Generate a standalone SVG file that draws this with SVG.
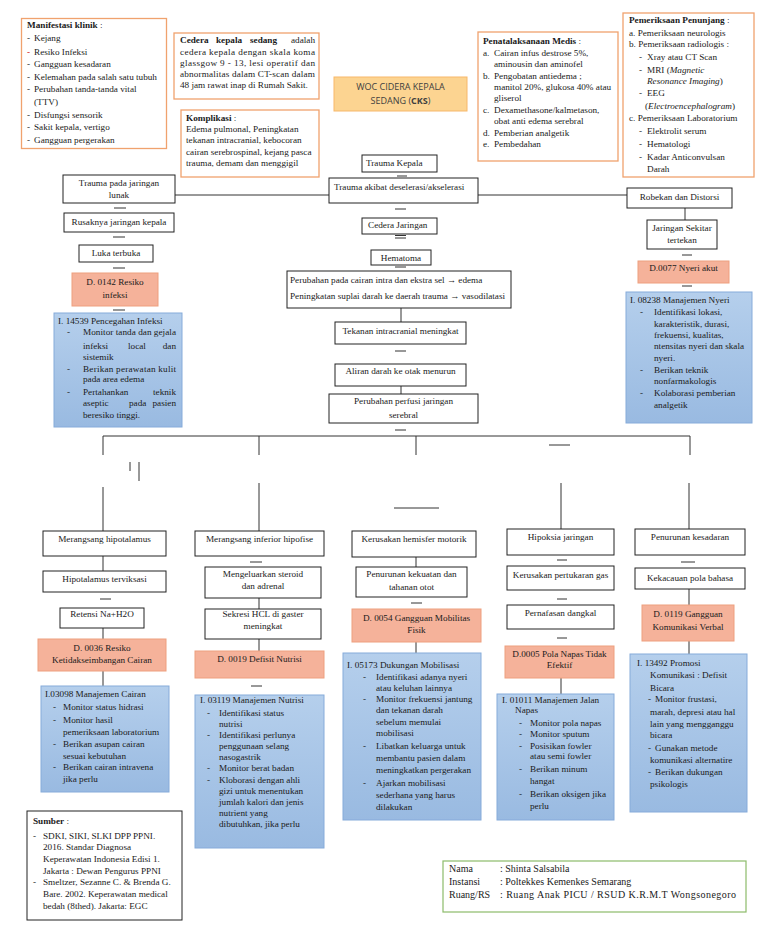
<svg xmlns="http://www.w3.org/2000/svg" width="768" height="932" viewBox="0 0 768 932">
<defs>
<linearGradient id="gb" x1="0" y1="0" x2="0" y2="1"><stop offset="0" stop-color="#B5CFEC"/><stop offset="1" stop-color="#99BAE1"/></linearGradient>
<style>
.t{font-family:"Liberation Serif","Times New Roman",serif;font-size:9.2px;fill:#1a1a1a}
.b{font-weight:bold}
.i{font-style:italic}
.m{text-anchor:middle}
.e{text-anchor:end}
.n{fill:#fff;stroke:#222;stroke-width:1}
.o{fill:#fff;stroke:#F0A26E;stroke-width:1.3}
.d{fill:#F5B29A;stroke:#EE9F7E;stroke-width:1}
.bl{fill:url(#gb);stroke:#86ABDA;stroke-width:1}
.c line{stroke:#333;stroke-width:1}
.h{font-family:"Open Sans","Liberation Sans",sans-serif;font-size:9px;fill:#404040;text-anchor:middle}
.id{font-family:"Liberation Serif","Times New Roman",serif;font-size:10px;fill:#1a1a1a}
</style>
</defs>
<rect width="768" height="932" fill="#fff"/>

<g id="connectors" class="c">
<line x1="175" y1="195" x2="329" y2="195"/>
<line x1="478" y1="195" x2="627" y2="195"/>
<line x1="397" y1="176" x2="407" y2="176"/>
<line x1="395" y1="209" x2="406" y2="209"/>
<line x1="395" y1="235.5" x2="406" y2="235.5"/>
<line x1="395" y1="238" x2="406" y2="238"/>
<line x1="395" y1="267" x2="406" y2="267"/>
<line x1="401" y1="308" x2="401" y2="322"/>
<line x1="395" y1="351" x2="406" y2="351"/>
<line x1="401" y1="386" x2="401" y2="394"/>
<line x1="395" y1="430" x2="406" y2="430"/>
<line x1="114" y1="208" x2="126" y2="208"/>
<line x1="113" y1="237" x2="125" y2="237"/>
<line x1="113" y1="268" x2="125" y2="268"/>
<line x1="113" y1="310" x2="125" y2="310"/>
<line x1="685" y1="208" x2="685" y2="220"/>
<line x1="682" y1="255" x2="692" y2="255"/>
<line x1="682" y1="286" x2="692" y2="286"/>
<line x1="103" y1="436" x2="690" y2="436"/>
<line x1="103" y1="436" x2="103" y2="455"/>
<line x1="259" y1="436" x2="259" y2="455"/>
<line x1="416" y1="436" x2="416" y2="455"/>
<line x1="690" y1="436" x2="690" y2="455"/>
<line x1="130" y1="462" x2="130" y2="471"/>
<line x1="139" y1="462" x2="139" y2="481"/>
<line x1="549" y1="445" x2="570" y2="445"/>
<line x1="394" y1="508" x2="439" y2="508"/>
<line x1="103" y1="487" x2="103" y2="531"/>
<line x1="103" y1="556" x2="103" y2="571"/>
<line x1="100" y1="599" x2="111" y2="599"/>
<line x1="103" y1="628" x2="103" y2="639"/>
<line x1="103" y1="671" x2="103" y2="686"/>
<line x1="259" y1="483" x2="259" y2="531"/>
<line x1="250" y1="562" x2="262" y2="562"/>
<line x1="259" y1="598" x2="259" y2="609"/>
<line x1="259" y1="639" x2="259" y2="651"/>
<line x1="251" y1="686" x2="262" y2="686"/>
<line x1="416" y1="557" x2="416" y2="567"/>
<line x1="411" y1="603" x2="422" y2="603"/>
<line x1="416" y1="642" x2="416" y2="653"/>
<line x1="561" y1="483" x2="561" y2="529"/>
<line x1="557" y1="560" x2="567" y2="560"/>
<line x1="557" y1="599" x2="567" y2="599"/>
<line x1="557" y1="638" x2="567" y2="638"/>
<line x1="561" y1="678" x2="561" y2="694"/>
<line x1="689" y1="483" x2="689" y2="529"/>
<line x1="681" y1="562" x2="695" y2="562"/>
<line x1="689" y1="589" x2="689" y2="605"/>
<line x1="689" y1="641" x2="689" y2="654"/>
</g>

<g id="manifestasi">
<rect class="o" x="21.5" y="18.5" width="145" height="130"/>
<text class="t" x="27" y="28"><tspan class="b">Manifestasi klinik</tspan> :</text>
<text class="t" x="27" y="41">-</text><text class="t" x="34" y="41">Kejang</text>
<text class="t" x="27" y="55" fill="#d00000" style="fill:#d00000">-</text><text class="t" x="34" y="55">Resiko Infeksi</text>
<text class="t" x="27" y="67">-</text><text class="t" x="34" y="67">Gangguan kesadaran</text>
<text class="t" x="27" y="80">-</text><text class="t" x="34" y="80">Kelemahan pada salah satu tubuh</text>
<text class="t" x="27" y="92">-</text><text class="t" x="34" y="92">Perubahan tanda-tanda vital</text>
<text class="t" x="34" y="105">(TTV)</text>
<text class="t" x="27" y="118">-</text><text class="t" x="34" y="118">Disfungsi sensorik</text>
<text class="t" x="27" y="130">-</text><text class="t" x="34" y="130">Sakit kepala, vertigo</text>
<text class="t" x="27" y="143">-</text><text class="t" x="34" y="143">Gangguan pergerakan</text>
</g>

<g id="definisi">
<rect class="o" x="174" y="33" width="145" height="66"/>
<text class="t b" x="180" y="43">Cedera</text>
<text class="t b" x="216" y="43">kepala</text>
<text class="t b" x="250" y="43">sedang</text>
<text class="t e" x="315" y="43">adalah</text>
<text class="t" x="180" y="55" textLength="135" lengthAdjust="spacing">cedera kepala dengan skala koma</text>
<text class="t" x="180" y="66" textLength="135" lengthAdjust="spacing">glassgow 9 - 13, lesi operatif dan</text>
<text class="t" x="180" y="77" textLength="135" lengthAdjust="spacing">abnormalitas dalam CT-scan dalam</text>
<text class="t" x="180" y="88">48 jam rawat inap di Rumah Sakit.</text>
</g>

<g id="komplikasi">
<rect class="o" x="181" y="110" width="138" height="67"/>
<text class="t" x="186" y="121"><tspan class="b">Komplikasi</tspan> :</text>
<text class="t" x="186" y="132">Edema pulmonal, Peningkatan</text>
<text class="t" x="186" y="143">tekanan intracranial, kebocoran</text>
<text class="t" x="186" y="155">cairan serebrospinal, kejang pasca</text>
<text class="t" x="186" y="166">trauma, demam dan menggigil</text>
</g>

<g id="judul">
<rect x="334" y="77" width="133" height="34" fill="#FCD491" stroke="#F7B86A" stroke-width="1"/>
<text class="h" x="400.5" y="90">WOC CIDERA KEPALA</text>
<text class="h" x="400.5" y="104">SEDANG (<tspan font-weight="bold">CKS</tspan>)</text>
</g>

<g id="penatalaksanaan">
<rect class="o" x="478" y="32" width="140" height="129"/>
<text class="t" x="483" y="44"><tspan class="b">Penatalaksanaan Medis</tspan> :</text>
<text class="t" x="483" y="55.5">a.</text><text class="t" x="494" y="55.5">Cairan infus destrose 5%,</text>
<text class="t" x="494" y="67">aminousin dan aminofel</text>
<text class="t" x="483" y="78.5">b.</text><text class="t" x="494" y="78.5">Pengobatan antiedema ;</text>
<text class="t" x="494" y="90">manitol 20%, glukosa 40% atau</text>
<text class="t" x="494" y="101">gliserol</text>
<text class="t" x="483" y="113">c.</text><text class="t" x="494" y="113">Dexamethasone/kalmetason,</text>
<text class="t" x="494" y="124">obat anti edema serebral</text>
<text class="t" x="483" y="136">d.</text><text class="t" x="494" y="136">Pemberian analgetik</text>
<text class="t" x="483" y="147">e.</text><text class="t" x="494" y="147">Pembedahan</text>
</g>

<g id="penunjang">
<rect class="o" x="623" y="13" width="131" height="164"/>
<text class="t" x="629" y="23"><tspan class="b">Pemeriksaan Penunjang</tspan> :</text>
<text class="t" x="629" y="36">a. Pemeriksaan neurologis</text>
<text class="t" x="629" y="47">b. Pemeriksaan radiologis :</text>
<text class="t" x="639" y="60">-</text><text class="t" x="647" y="60">Xray atau CT Scan</text>
<text class="t" x="639" y="73">-</text><text class="t" x="647" y="73">MRI (<tspan class="i">Magnetic</tspan></text>
<text class="t" x="647" y="84"><tspan class="i">Resonance Imaging</tspan>)</text>
<text class="t" x="639" y="96">-</text><text class="t" x="647" y="96">EEG</text>
<text class="t" x="645" y="109">(<tspan class="i">Electroencephalogram</tspan>)</text>
<text class="t" x="629" y="121">c. Pemeriksaan Laboratorium</text>
<text class="t" x="639" y="134">-</text><text class="t" x="647" y="134">Elektrolit serum</text>
<text class="t" x="639" y="147">-</text><text class="t" x="647" y="147">Hematologi</text>
<text class="t" x="639" y="160">-</text><text class="t" x="647" y="160">Kadar Anticonvulsan</text>
<text class="t" x="647" y="172">Darah</text>
</g>

<g id="trauma-kepala"><rect class="n" x="362" y="155" width="75" height="17"/><text class="t" x="366" y="166">Trauma Kepala</text></g>
<g id="trauma-akibat"><rect class="n" x="329" y="178" width="149" height="25"/><text class="t" x="334" y="190">Trauma akibat deselerasi/akselerasi</text></g>
<g id="cedera-jaringan"><rect class="n" x="362" y="218" width="75" height="16"/><text class="t" x="368" y="228">Cedera Jaringan</text></g>
<g id="hematoma"><rect class="n" x="371" y="250" width="60" height="15"/><text class="t m" x="401" y="261">Hematoma</text></g>
<g id="perubahan-cairan"><rect class="n" x="287" y="271" width="224" height="37"/>
<text class="t" x="290" y="283">Perubahan pada cairan intra dan ekstra sel → edema</text>
<text class="t" x="290" y="299">Peningkatan suplai darah ke daerah trauma → vasodilatasi</text></g>
<g id="tik"><rect class="n" x="335" y="322" width="131" height="22"/><text class="t m" x="400.5" y="334">Tekanan intracranial meningkat</text></g>
<g id="aliran"><rect class="n" x="335" y="364" width="131" height="22"/><text class="t m" x="400.5" y="374">Aliran darah ke otak menurun</text></g>
<g id="perfusi"><rect class="n" x="329" y="394" width="149" height="29"/>
<text class="t m" x="403.5" y="404">Perubahan perfusi jaringan</text><text class="t m" x="403.5" y="418">serebral</text></g>

<g id="trauma-lunak"><rect class="n" x="63" y="175" width="112" height="28"/>
<text class="t m" x="119" y="186">Trauma pada jaringan</text><text class="t m" x="119" y="198">lunak</text></g>
<g id="rusaknya"><rect class="n" x="64" y="213" width="110" height="19"/><text class="t m" x="119" y="225">Rusaknya jaringan kepala</text></g>
<g id="luka"><rect class="n" x="79" y="245" width="74" height="17"/><text class="t m" x="116" y="256">Luka terbuka</text></g>
<g id="d0142"><rect class="d" x="72" y="273" width="86" height="33"/>
<text class="t m" x="115" y="285">D. 0142 Resiko</text><text class="t m" x="115" y="298">infeksi</text></g>
<g id="i14539"><rect class="bl" x="54" y="313" width="128" height="114"/>
<text class="t" x="58" y="324">I. 14539 Pencegahan Infeksi</text>
<text class="t" x="67" y="335">-</text><text class="t" x="83" y="335" textLength="93" lengthAdjust="spacing">Monitor tanda dan gejala</text>
<text class="t" x="83" y="349">infeksi</text><text class="t" x="128" y="349">local</text><text class="t e" x="176" y="349">dan</text>
<text class="t" x="83" y="360">sistemik</text>
<text class="t" x="67" y="372">-</text><text class="t" x="83" y="372" textLength="93" lengthAdjust="spacing">Berikan perawatan kulit</text>
<text class="t" x="83" y="382">pada area edema</text>
<text class="t" x="67" y="395">-</text><text class="t" x="83" y="395">Pertahankan</text><text class="t e" x="176" y="395">teknik</text>
<text class="t" x="83" y="406">aseptic</text><text class="t" x="129" y="406">pada</text><text class="t e" x="176" y="406">pasien</text>
<text class="t" x="83" y="418">beresiko tinggi.</text></g>

<g id="robekan"><rect class="n" x="627" y="188" width="105" height="20"/><text class="t m" x="679.5" y="200">Robekan dan Distorsi</text></g>
<g id="jaringan-sekitar"><rect class="n" x="647" y="220" width="70" height="29"/>
<text class="t m" x="682" y="231">Jaringan Sekitar</text><text class="t m" x="682" y="243">tertekan</text></g>
<g id="d0077"><rect class="d" x="638" y="261" width="91" height="22"/><text class="t m" x="683.5" y="271">D.0077 Nyeri akut</text></g>
<g id="i08238"><rect class="bl" x="626" y="292" width="126" height="131"/>
<text class="t" x="630" y="303">I. 08238 Manajemen Nyeri</text>
<text class="t" x="640" y="315">-</text><text class="t" x="654" y="315">Identifikasi lokasi,</text>
<text class="t" x="654" y="327">karakteristik, durasi,</text>
<text class="t" x="654" y="338">frekuensi, kualitas,</text>
<text class="t" x="654" y="349">ntensitas nyeri dan skala</text>
<text class="t" x="654" y="361">nyeri.</text>
<text class="t" x="640" y="373">-</text><text class="t" x="654" y="373">Berikan teknik</text>
<text class="t" x="654" y="384">nonfarmakologis</text>
<text class="t" x="640" y="396">-</text><text class="t" x="654" y="396">Kolaborasi pemberian</text>
<text class="t" x="654" y="408">analgetik</text></g>

<g id="hipotalamus"><rect class="n" x="43" y="531" width="123" height="25"/><text class="t m" x="104.5" y="542">Merangsang hipotalamus</text></g>
<g id="terviksasi"><rect class="n" x="43" y="571" width="123" height="21"/><text class="t m" x="104.5" y="582">Hipotalamus terviksasi</text></g>
<g id="retensi"><rect class="n" x="60" y="608" width="84" height="20"/><text class="t m" x="102" y="617">Retensi Na+H2O</text></g>
<g id="d0036"><rect class="d" x="38" y="639" width="128" height="32"/>
<text class="t m" x="102" y="651">D. 0036 Resiko</text><text class="t m" x="102" y="663">Ketidakseimbangan Cairan</text></g>
<g id="i03098"><rect class="bl" x="41" y="686" width="128" height="106"/>
<text class="t" x="45" y="697">I.03098 Manajemen Cairan</text>
<text class="t" x="53" y="710">-</text><text class="t" x="63" y="710">Monitor status hidrasi</text>
<text class="t" x="53" y="723">-</text><text class="t" x="63" y="723">Monitor hasil</text>
<text class="t" x="63" y="735">pemeriksaan laboratorium</text>
<text class="t" x="53" y="747">-</text><text class="t" x="63" y="747">Berikan asupan cairan</text>
<text class="t" x="63" y="759">sesuai kebutuhan</text>
<text class="t" x="53" y="770">-</text><text class="t" x="63" y="770">Berikan cairan intravena</text>
<text class="t" x="63" y="782">jika perlu</text></g>

<g id="hipofise"><rect class="n" x="195" y="531" width="129" height="25"/><text class="t m" x="259.5" y="542">Merangsang inferior hipofise</text></g>
<g id="steroid"><rect class="n" x="205" y="567" width="116" height="31"/>
<text class="t m" x="263" y="577">Mengeluarkan steroid</text><text class="t m" x="263" y="589">dan adrenal</text></g>
<g id="hcl"><rect class="n" x="205" y="609" width="116" height="30"/>
<text class="t m" x="263" y="617">Sekresi HCL di gaster</text><text class="t m" x="263" y="629">meningkat</text></g>
<g id="d0019"><rect class="d" x="195" y="651" width="129" height="27"/><text class="t m" x="259.5" y="662">D. 0019 Defisit Nutrisi</text></g>
<g id="i03119"><rect class="bl" x="195" y="695" width="129" height="153"/>
<text class="t" x="200" y="703">I. 03119 Manajemen Nutrisi</text>
<text class="t" x="207" y="716">-</text><text class="t" x="219" y="716">Identifikasi status</text>
<text class="t" x="219" y="727">nutrisi</text>
<text class="t" x="207" y="738">-</text><text class="t" x="219" y="738">Identifikasi perlunya</text>
<text class="t" x="219" y="749">penggunaan selang</text>
<text class="t" x="219" y="760">nasogastrik</text>
<text class="t" x="207" y="771">-</text><text class="t" x="219" y="771">Monitor berat badan</text>
<text class="t" x="207" y="783">-</text><text class="t" x="219" y="783">Kloborasi dengan ahli</text>
<text class="t" x="219" y="794">gizi untuk menentukan</text>
<text class="t" x="219" y="805">jumlah kalori dan jenis</text>
<text class="t" x="219" y="816">nutrient yang</text>
<text class="t" x="219" y="827">dibutuhkan, jika perlu</text></g>

<g id="hemisfer"><rect class="n" x="352" y="531" width="124" height="26"/><text class="t m" x="414" y="542">Kerusakan hemisfer motorik</text></g>
<g id="kekuatan"><rect class="n" x="356" y="567" width="111" height="30"/>
<text class="t m" x="411.5" y="577">Penurunan kekuatan dan</text><text class="t m" x="411.5" y="590">tahanan otot</text></g>
<g id="d0054"><rect class="d" x="352" y="609" width="129" height="33"/>
<text class="t m" x="416.5" y="621">D. 0054 Gangguan Mobilitas</text><text class="t m" x="416.5" y="633">Fisik</text></g>
<g id="i05173"><rect class="bl" x="343" y="653" width="138" height="167"/>
<text class="t" x="347" y="668">I. 05173 Dukungan Mobilisasi</text>
<text class="t" x="363" y="680">-</text><text class="t" x="376" y="680">Identifikasi adanya nyeri</text>
<text class="t" x="376" y="691">atau keluhan lainnya</text>
<text class="t" x="363" y="702">-</text><text class="t" x="376" y="702">Monitor frekuensi jantung</text>
<text class="t" x="376" y="713">dan tekanan darah</text>
<text class="t" x="376" y="725">sebelum memulai</text>
<text class="t" x="376" y="736">mobilisasi</text>
<text class="t" x="363" y="749">-</text><text class="t" x="376" y="749">Libatkan keluarga untuk</text>
<text class="t" x="376" y="761">membantu pasien dalam</text>
<text class="t" x="376" y="773">meningkatkan pergerakan</text>
<text class="t" x="363" y="786">-</text><text class="t" x="376" y="786">Ajarkan mobilisasi</text>
<text class="t" x="376" y="798">sederhana yang harus</text>
<text class="t" x="376" y="810">dilakukan</text></g>

<g id="hipoksia"><rect class="n" x="507" y="529" width="107" height="26"/><text class="t m" x="560.5" y="540">Hipoksia jaringan</text></g>
<g id="pertukaran-gas"><rect class="n" x="507" y="566" width="107" height="24"/><text class="t m" x="560.5" y="578">Kerusakan pertukaran gas</text></g>
<g id="pernafasan"><rect class="n" x="507" y="605" width="107" height="24"/><text class="t m" x="560.5" y="616">Pernafasan dangkal</text></g>
<g id="d0005"><rect class="d" x="505" y="646" width="109" height="32"/>
<text class="t m" x="559.5" y="657">D.0005 Pola Napas Tidak</text><text class="t m" x="559.5" y="668">Efektif</text></g>
<g id="i01011"><rect class="bl" x="497" y="694" width="117" height="126"/>
<text class="t" x="502" y="703">I. 01011 Manajemen Jalan</text>
<text class="t" x="515" y="713">Napas</text>
<text class="t" x="519" y="726">-</text><text class="t" x="530" y="726">Monitor pola napas</text>
<text class="t" x="519" y="737">-</text><text class="t" x="530" y="737">Monitor sputum</text>
<text class="t" x="519" y="749">-</text><text class="t" x="530" y="749">Posisikan fowler</text>
<text class="t" x="530" y="759">atau semi fowler</text>
<text class="t" x="519" y="772">-</text><text class="t" x="530" y="772">Berikan minum</text>
<text class="t" x="530" y="784">hangat</text>
<text class="t" x="519" y="797">-</text><text class="t" x="530" y="797">Berikan oksigen jika</text>
<text class="t" x="530" y="809">perlu</text></g>

<g id="kesadaran"><rect class="n" x="635" y="529" width="110" height="26"/><text class="t m" x="690" y="540">Penurunan kesadaran</text></g>
<g id="pola-bahasa"><rect class="n" x="635" y="568" width="110" height="21"/><text class="t m" x="690" y="581">Kekacauan pola bahasa</text></g>
<g id="d0119"><rect class="d" x="642" y="605" width="92" height="36"/>
<text class="t m" x="688" y="617">D. 0119 Gangguan</text><text class="t m" x="688" y="630">Komunikasi Verbal</text></g>
<g id="i13492"><rect class="bl" x="630" y="654" width="117" height="158"/>
<text class="t" x="637" y="666">I. 13492 Promosi</text>
<text class="t" x="650" y="678">Komunikasi : Defisit</text>
<text class="t" x="650" y="691">Bicara</text>
<text class="t" x="648" y="702">-</text><text class="t" x="655" y="702">Monitor frustasi,</text>
<text class="t" x="650" y="715">marah, depresi atau hal</text>
<text class="t" x="650" y="727">lain yang mengganggu</text>
<text class="t" x="650" y="738">bicara</text>
<text class="t" x="648" y="751">-</text><text class="t" x="655" y="751">Gunakan metode</text>
<text class="t" x="650" y="763">komunikasi alternatire</text>
<text class="t" x="648" y="775">-</text><text class="t" x="655" y="775">Berikan dukungan</text>
<text class="t" x="650" y="787">psikologis</text></g>

<g id="sumber">
<rect x="27" y="811" width="155" height="109" fill="#fff" stroke="#222" stroke-width="1"/>
<text class="t" x="33" y="824"><tspan class="b">Sumber</tspan> :</text>
<text class="t" x="33" y="839">-</text><text class="t" x="43" y="839">SDKI, SIKI, SLKI DPP PPNI.</text>
<text class="t" x="43" y="850">2016. Standar Diagnosa</text>
<text class="t" x="43" y="862">Keperawatan Indonesia Edisi 1.</text>
<text class="t" x="43" y="874">Jakarta : Dewan Pengurus PPNI</text>
<text class="t" x="33" y="885">-</text><text class="t" x="43" y="885">Smeltzer, Sezanne C. &amp; Brenda G.</text>
<text class="t" x="43" y="897">Bare. 2002. Keperawatan medical</text>
<text class="t" x="43" y="909">bedah (8thed). Jakarta: EGC</text>
</g>

<g id="identitas">
<rect x="443" y="861" width="303" height="51" fill="#fff" stroke="#8CBB6A" stroke-width="1.2"/>
<text class="id" x="449" y="872">Nama</text><text class="id" x="500" y="872">: Shinta Salsabila</text>
<text class="id" x="449" y="885">Instansi</text><text class="id" x="500" y="885">: Poltekkes Kemenkes Semarang</text>
<text class="id" x="449" y="898">Ruang/RS</text><text class="id" x="500" y="898" textLength="236" lengthAdjust="spacing">: Ruang Anak PICU / RSUD K.R.M.T Wongsonegoro</text>
</g>
</svg>
